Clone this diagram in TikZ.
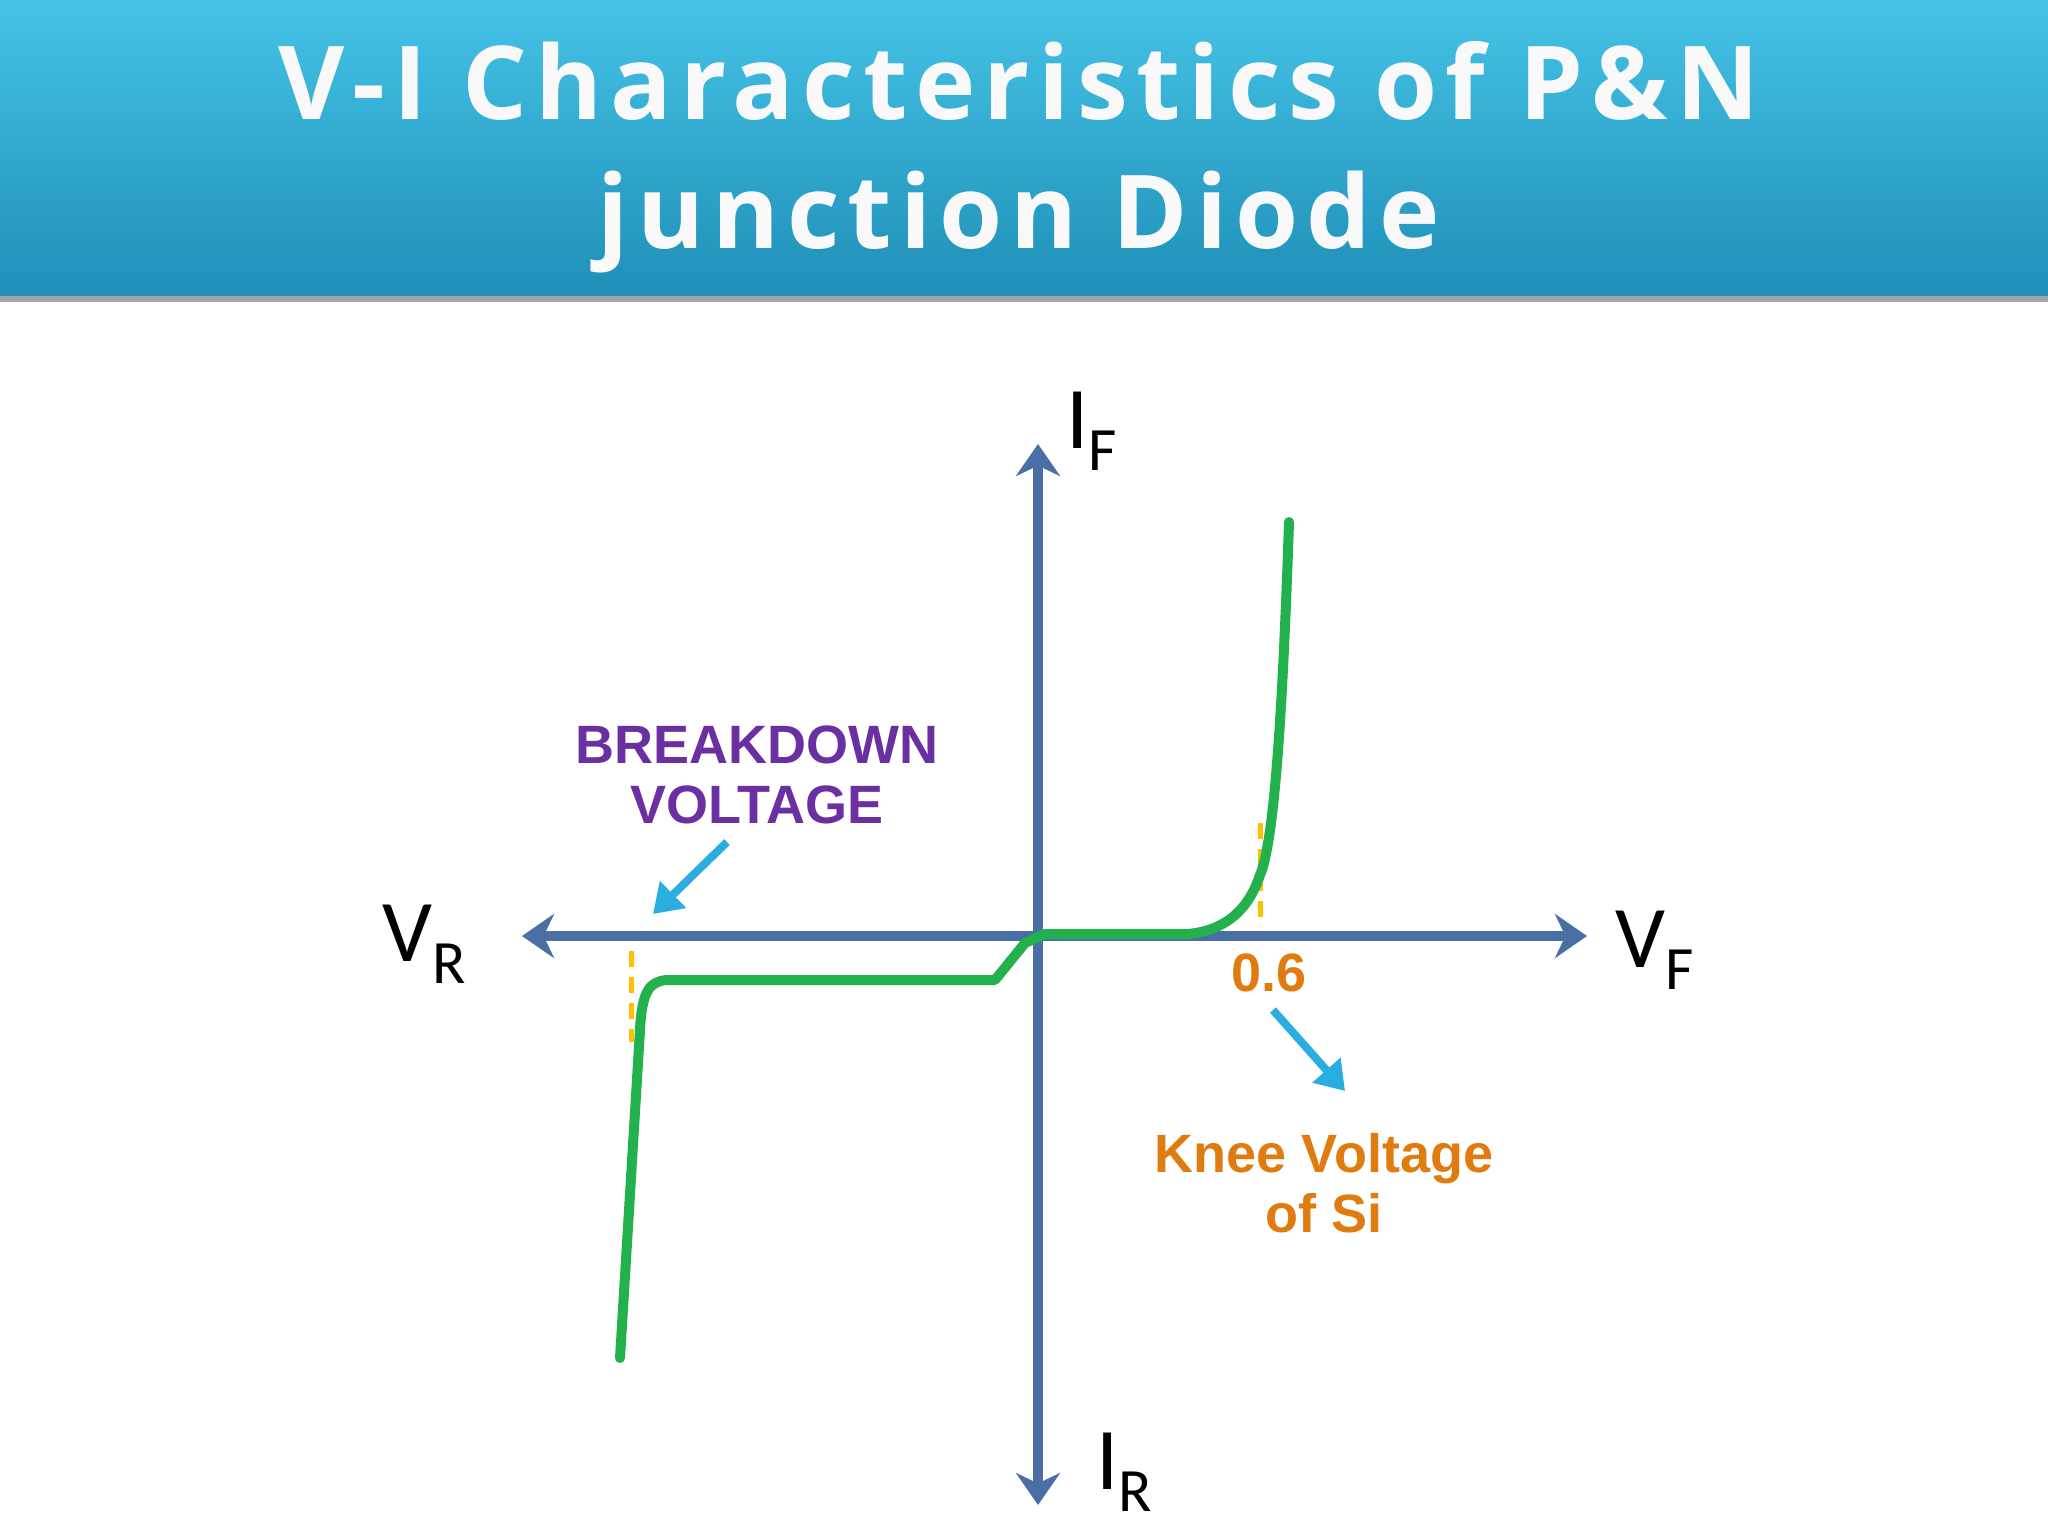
\documentclass[tikz,border=0pt]{standalone}
\usepackage{fontspec}
\setmainfont{Carlito}
\newfontfamily\titlefont[LetterSpace=8]{Open Sans}
\newfontfamily\boldsans{Liberation Sans}
\usetikzlibrary{arrows.meta}
\definecolor{axisblue}{HTML}{4A6FA5}
\definecolor{curvegreen}{HTML}{22B14C}
\definecolor{kneeor}{HTML}{E07B10}
\definecolor{dashor}{HTML}{FFC000}
\definecolor{purp}{HTML}{6A2FA0}
\definecolor{arrcyan}{HTML}{2AAEE0}
\definecolor{bantop}{HTML}{45C3E6}
\definecolor{banbot}{HTML}{1F8FB8}
\tikzset{
  axis/.style={draw=axisblue,line width=5pt,{Stealth[length=16pt,width=22pt]}-{Stealth[length=16pt,width=22pt]}},
  lab/.style={font=\fontsize{44}{48}\selectfont,text=black},
  callout/.style={draw=arrcyan,line width=4pt,-{Triangle[length=14pt,width=18pt]}},
  dashline/.style={draw=dashor,line width=2.5pt,dashed,dash pattern=on 8pt off 5pt},
}
\begin{document}
\begin{tikzpicture}[x=0.5pt,y=-0.5pt]
\useasboundingbox (0,0) rectangle (2048,1536);
\shade[top color=bantop,bottom color=banbot] (0,0) rectangle (2048,296);
\fill[black!35] (0,296) rectangle (2048,302);
\node[font=\titlefont\bfseries\fontsize{51}{60}\selectfont,text=white!95!gray] (t1) at (1019,81) {V-I Characteristics of P\&N};
\node[font=\titlefont\bfseries\fontsize{51}{60}\selectfont,text=white!95!gray] (t2) at (1019,222) {junction Diode};
% axes
\coordinate (xl) at (522,936); \coordinate (xr) at (1587,936);
\coordinate (yt) at (1038,444); \coordinate (yb) at (1038,1505);
\draw[axis] (xl) -- (xr);
\draw[axis] (yt) -- (yb);
\node[lab] (IF) at (1092,431) {I\textsubscript{F}};
\node[lab] (VR) at (425,944) {V\textsubscript{R}};
\node[lab] (VF) at (1655,950) {V\textsubscript{F}};
\node[lab] (IR) at (1125,1472) {I\textsubscript{R}};
% dashed markers
\draw[dashline] (1260,823) -- (1260,927);
\draw[dashline] (631,951) -- (631,1042);
% curve
\draw[curvegreen,line width=5pt,line join=round,line cap=round]
 (1289,522) .. controls (1283,700) and (1275,840) .. (1260,875)
 .. controls (1250,905) and (1230,930) .. (1188,934)
 -- (1045,934) -- (1025,943) -- (995,980) -- (666,980)
 .. controls (650,982) and (642,990) .. (640,1030)
 -- (620,1358);
% labels
\node[font=\boldsans\bfseries\fontsize{27}{30}\selectfont,text=kneeor] (v06) at (1269,973) {0.6};
\node[font=\boldsans\bfseries\fontsize{27}{30}\selectfont,text=kneeor,align=center] (knee) at (1324,1183) {Knee Voltage\\of Si};
\node[font=\boldsans\bfseries\fontsize{27}{30}\selectfont,text=purp,align=center] (bd) at (757,775) {BREAKDOWN\\VOLTAGE};
\coordinate (k1) at (1273,1010); \coordinate (k2) at (1345,1091);
\coordinate (b1) at (727,842); \coordinate (b2) at (653,914);
\draw[callout] (k1) -- (k2);
\draw[callout] (b1) -- (b2);
\end{tikzpicture}
\end{document}
